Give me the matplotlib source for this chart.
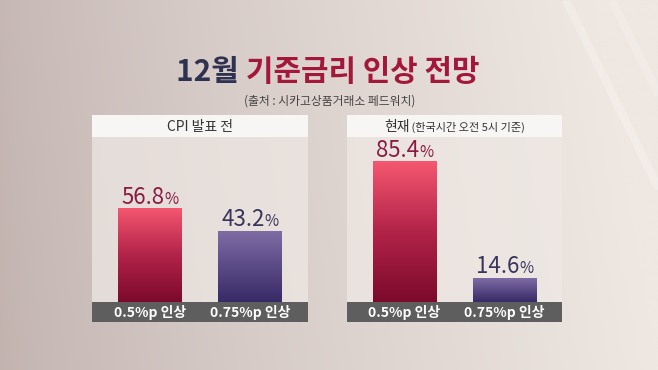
import numpy as np
import matplotlib
matplotlib.use("Agg")
import matplotlib.pyplot as plt
from matplotlib.colors import LinearSegmentedColormap
from matplotlib.patches import Rectangle

plt.rcParams['font.family'] = ['Noto Sans CJK KR', 'DejaVu Sans']

# ---- data ----
title_dark = "12월"
title_red = "기준금리 인상 전망"
source = "(출처 : 시카고상품거래소 페드워치)"
categories = ["0.5%p 인상", "0.75%p 인상"]
before_cpi = [56.8, 43.2]
now_vals = [85.4, 14.6]
panel_titles = [("CPI 발표 전", ""), ("현재", " (한국시간 오전 5시 기준)")]

W, H = 658, 370
fig = plt.figure(figsize=(W / 100, H / 100), dpi=100)

def fx(x):
    return x / W

def fy(y):
    return 1 - y / H

# background gradient
bg = fig.add_axes([0, 0, 1, 1])
bg.set_axis_off()
bg.set_zorder(-10)
xs = np.linspace(0, 1, 300)
ys = np.linspace(0, 1, 200)
X, Y = np.meshgrid(xs, ys)
left_c = np.array([0xc2, 0xb3, 0xaf]) / 255
right_c = np.array([0xee, 0xe7, 0xe2]) / 255
t = np.clip(X ** 0.8 + 0.08 * Y, 0, 1)
img = left_c[None, None, :] * (1 - t[..., None]) + right_c[None, None, :] * t[..., None]
bg.imshow(img, extent=[0, 1, 0, 1], aspect='auto', origin='lower')
# faint diagonal streaks
for x0, a in [(0.86, 0.25), (0.93, 0.18)]:
    bg.plot([x0, x0 + 0.18], [1.0, 0.35], color='white', lw=6, alpha=a, solid_capstyle='butt')
bg.set_xlim(0, 1)
bg.set_ylim(0, 1)

r = fig.canvas.get_renderer()

# title in two colours
t_dark = fig.text(0, 0, title_dark + " ", fontsize=21.5, fontweight='bold', color='#2e3250', va='center')
t_red = fig.text(0, 0, title_red, fontsize=21.5, fontweight='bold', color='#a3173b', va='center')
w_dark = t_dark.get_window_extent(r).width
w_red = t_red.get_window_extent(r).width
x_start = 328 - (w_dark + w_red) / 2
t_dark.set_position((fx(x_start), fy(72)))
t_red.set_position((fx(x_start + w_dark), fy(72)))

fig.text(fx(330), fy(101), source, ha='center', va='center', fontsize=8.5, color='#444444')

red_cmap = LinearSegmentedColormap.from_list('r', ['#7b0a2b', '#b22349', '#f5576f'])
pur_cmap = LinearSegmentedColormap.from_list('p', ['#372a66', '#5a4a86', '#7e6ca4'])
bar_cmaps = [red_cmap, pur_cmap]
val_colors = ['#8a1a42', '#38345c']

panels = [(92, 308, before_cpi), (347, 562, now_vals)]
px_per_pct = 1.64

for i, (x0, x1, vals) in enumerate(panels):
    pw = x1 - x0
    # panel body
    bg.add_patch(Rectangle((fx(x0), fy(302)), fx(pw), (302 - 137) / H,
                           transform=fig.transFigure, facecolor='#efe9e5',
                           edgecolor='none', alpha=0.7, zorder=3))
    # header strip
    bg.add_patch(Rectangle((fx(x0), fy(137)), fx(pw), 22 / H,
                           transform=fig.transFigure, facecolor='#f8f6f5',
                           edgecolor='none', zorder=3))
    # category bar
    bg.add_patch(Rectangle((fx(x0), fy(322)), fx(pw), 20 / H,
                           transform=fig.transFigure, facecolor='#5e5e5e',
                           edgecolor='none', zorder=3))
    # header text
    main, sub = panel_titles[i]
    cx = (x0 + x1) / 2
    if sub:
        tm = fig.text(0, 0, main, fontsize=10, color='#333333', va='center')
        ts = fig.text(0, 0, sub, fontsize=8, color='#333333', va='center')
        wm = tm.get_window_extent(r).width
        ws = ts.get_window_extent(r).width
        xs0 = cx - (wm + ws) / 2
        tm.set_position((fx(xs0), fy(127)))
        ts.set_position((fx(xs0 + wm), fy(127.5)))
    else:
        fig.text(fx(cx), fy(127), main, ha='center', va='center', fontsize=10, color='#333333')

    # bar axes
    ah = 100 * px_per_pct
    ax = fig.add_axes([fx(x0), fy(302), fx(pw), ah / H])
    ax.set_axis_off()
    ax.set_zorder(5)
    pos = np.arange(len(vals))
    bars = ax.bar(pos, vals, width=0.64, color='none', edgecolor='none')
    grad = np.linspace(0, 1, 256)[:, None]
    for j, b in enumerate(bars):
        bx, bw, bh = b.get_x(), b.get_width(), b.get_height()
        ax.imshow(grad, cmap=bar_cmaps[j], extent=[bx, bx + bw, 0, bh],
                  aspect='auto', origin='lower', zorder=2)
    ax.set_xlim(0.5 - pw / 200, 0.5 + pw / 200)
    ax.set_ylim(0, 100)

    for j, v in enumerate(vals):
        tn = ax.text(0, 0, f"{v:.1f}", fontsize=16)
        tp = ax.text(0, 0, "%", fontsize=11)
        wn = tn.get_window_extent(r).width
        wp = tp.get_window_extent(r).width
        tn.remove()
        tp.remove()
        ax.annotate(f"{v:.1f}", (pos[j], v), xytext=(-(wn + wp) / 2, 0),
                    textcoords='offset pixels', ha='left', va='bottom',
                    fontsize=16, color=val_colors[j], annotation_clip=False)
        ax.annotate("%", (pos[j], v), xytext=(-(wn + wp) / 2 + wn, 1),
                    textcoords='offset pixels', ha='left', va='bottom',
                    fontsize=11, color=val_colors[j], annotation_clip=False)
        # category label under bar
        ax.annotate(categories[j], (pos[j], 0), xytext=(0, -10),
                    textcoords='offset pixels', ha='center', va='center',
                    fontsize=10, color='white', fontweight='bold',
                    annotation_clip=False)

fig.savefig("out.png", dpi=100)
